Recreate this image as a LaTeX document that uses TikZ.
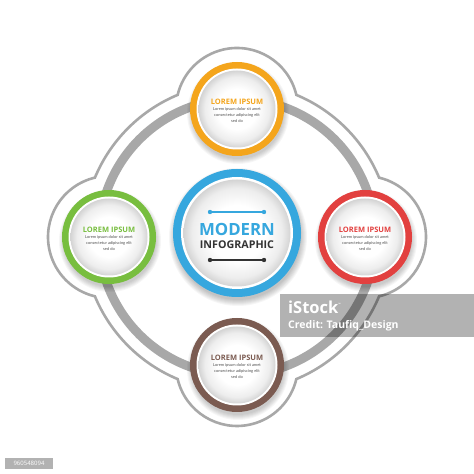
\documentclass[tikz,border=0pt]{standalone}
\usepackage{fontspec}
\setmainfont{Open Sans}
\newfontfamily\latofont{Lato}
\usetikzlibrary{calc}
\definecolor{cOrange}{HTML}{F4A51C}
\definecolor{cGreen}{HTML}{78BE3F}
\definecolor{cRed}{HTML}{E2403F}
\definecolor{cBrown}{HTML}{7B5B51}
\definecolor{cBlue}{HTML}{36A7DE}
\definecolor{cRing}{HTML}{A8A8A8}
\definecolor{cBody}{HTML}{505050}
\definecolor{cDark}{HTML}{333333}
\pgfdeclareradialshading{discshade}{\pgfpoint{0bp}{0bp}}{color(0bp)=(white); color(13bp)=(white); color(21bp)=(black!7); color(25bp)=(black!17); color(50bp)=(black!17)}
\newcommand\mySpoke[3]{%
  \foreach \k in {0,...,5} \fill[black, opacity=0.035] ($(#2)+(1,-4)$) circle[radius=46+\k];
  \node[spokering, fill=#3] (#1) at (#2) {};
  \fill[white] (#1.center) circle[radius=40.5];
  \shade[shading=discshade] (#1.center) circle[radius=38.5];
  \node[headtext, text=#3] (#1-h) at ($(#1.center)+(0,7)$) {LOREM IPSUM};
  \node[bodytext] (#1-b) at ($(#1.center)+(0,-6)$) {Lorem ipsum dolor sit amet\\consectetur adipiscing elit\\sed do};
}
\begin{document}
\begin{tikzpicture}[x=1pt,y=1pt,
  ringline/.style={draw=cRing, line width=9pt},
  outline/.style={draw=cRing, line width=2.6pt, fill=white},
  spokering/.style={circle, minimum size=94pt, inner sep=0pt},
  headtext/.style={font=\bfseries\fontsize{7.5}{8}\selectfont, inner sep=0pt},
  bodytext/.style={font=\latofont\fontsize{4}{6}\selectfont, text=cBody, align=center, inner sep=0pt},
  dotline/.style={line width=1.4pt},
  wmtext/.style={text=white, inner sep=0pt, anchor=base west}]
\useasboundingbox (0,0) rectangle (474,474);
\fill[white] (0,0) rectangle (474,474);
\coordinate (O) at (237,237);
\pgfmathsetmacro\myRR{1.54}
\pgfmathsetmacro\mydd{1.28}
\pgfmathsetmacro\myrr{0.61}
\pgfmathsetmacro\myth{acos((\myRR*\myRR+\mydd*\mydd-\myrr*\myrr)/(2*\myRR*\mydd))}
\pgfmathsetmacro\myph{180-acos((\mydd*\mydd+\myrr*\myrr-\myRR*\myRR)/(2*\mydd*\myrr))}
\pgfmathsetmacro\myRp{\myRR*100}
\pgfmathsetmacro\mydp{\mydd*100}
\pgfmathsetmacro\myrp{\myrr*100}
% outer thin outline
\draw[outline] ($(O)+(90:\mydp)+(90-\myph:\myrp)$)
  foreach \a in {90,180,270,360} {
    arc[start angle=\a-\myph, end angle=\a+\myph, radius=\myrp]
    arc[start angle=\a+\myth, end angle=\a+90-\myth, radius=\myRp]
  } -- cycle;
% thick ring
\draw[ringline] (O) circle[radius=138];
% spokes
\coordinate (ptop) at ($(O)+(90:\mydp)$);
\coordinate (pleft) at ($(O)+(180:\mydp)$);
\coordinate (pbot) at ($(O)+(270:\mydp)$);
\coordinate (pright) at ($(O)+(0:\mydp)$);
\mySpoke{top}{ptop}{cOrange}
\mySpoke{left}{pleft}{cGreen}
\mySpoke{bottom}{pbot}{cBrown}
\mySpoke{right}{pright}{cRed}
% centre
\coordinate (pc) at (237,241);
\foreach \k in {0,...,6} \fill[black, opacity=0.035] ($(pc)+(1,-4)$) circle[radius=63+\k];
\node[circle, fill=cBlue, minimum size=128pt, inner sep=0pt] (centre) at (pc) {};
\fill[white] (centre.center) circle[radius=56];
\shade[shading=discshade] (centre.center) circle[radius=53.5];
\node[font=\bfseries\fontsize{16.8}{17}\selectfont, text=cBlue, inner sep=0pt, anchor=base, text height=12pt, text depth=0pt] (modern) at ($(centre.center)+(0,-2.5)$) {MODERN};
\node[font=\bfseries\fontsize{10.7}{11}\selectfont, text=cDark, inner sep=0pt, anchor=base, text height=7.7pt, text depth=0pt] (infog) at ($(centre.center)+(0,-16)$) {INFOGRAPHIC};
\coordinate (bl1) at ($(centre.center)+(-27,21)$);
\coordinate (bl2) at ($(centre.center)+(27,21)$);
\coordinate (dl1) at ($(centre.center)+(-27,-27)$);
\coordinate (dl2) at ($(centre.center)+(27,-27)$);
\draw[dotline, cBlue] (bl1) -- (bl2);
\fill[cBlue] (bl1) circle[radius=2.2] (bl2) circle[radius=2.2];
\draw[dotline, cDark] (dl1) -- (dl2);
\fill[cDark] (dl1) circle[radius=2.2] (dl2) circle[radius=2.2];
% watermark
\fill[black, fill opacity=0.3] (280,137) rectangle (474,180);
\node[wmtext, font=\bfseries\fontsize{16.5}{17}\selectfont] (wm1) at (288,160) {iStock\raisebox{8pt}{\fontsize{3}{3}\selectfont ™}};
\node[wmtext, font=\bfseries\fontsize{10.5}{11}\selectfont] (wm2) at (288,145) {Credit: Taufiq\_Design};
\fill[black, fill opacity=0.3] (5,5) rectangle (53,16);
\node[text=white, inner sep=0pt, font=\fontsize{6}{6}\selectfont] (wm3) at (29,10.5) {960548094};
\end{tikzpicture}
\end{document}
